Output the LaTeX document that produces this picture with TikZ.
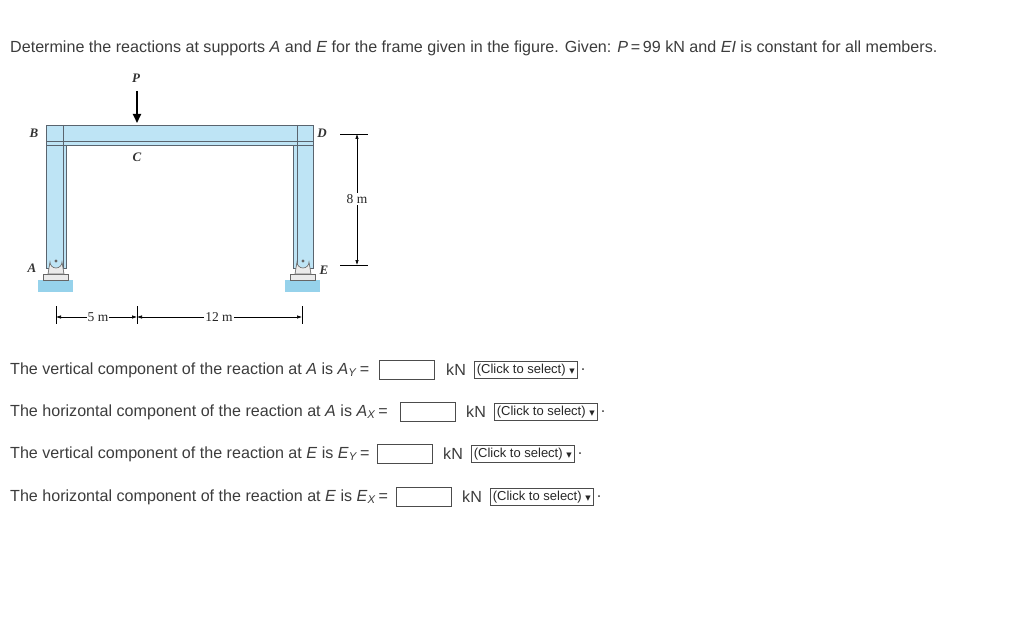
\documentclass[tikz,border=0pt]{standalone}
\usepackage{fontspec}
\setmainfont{Liberation Sans}
\newfontfamily\figfont{Liberation Serif}
\newfontfamily\symfont{DejaVu Sans}
\usetikzlibrary{arrows.meta}
\definecolor{txt}{RGB}{60,60,60}
\definecolor{steel}{RGB}{190,228,245}
\definecolor{steeldk}{RGB}{90,100,110}
\definecolor{gnd}{RGB}{150,210,235}
\begin{document}
\begin{tikzpicture}[x=1pt,y=-1pt,
  q/.style={anchor=west,inner sep=0,text=txt,font=\fontsize{16.1}{19}\selectfont},
  inbox/.style={draw=black!70,line width=0.7pt,minimum width=55pt,minimum height=19pt,inner sep=0,anchor=west},
  sel/.style={draw=black!70,line width=0.7pt,inner sep=2.5pt,anchor=west,font=\fontsize{13}{15}\selectfont,text=black!85},
  lab/.style={font=\figfont\bfseries\itshape\fontsize{13}{15}\selectfont,text=black!80},
  dim/.style={font=\figfont\fontsize{13.5}{15}\selectfont,text=black!85,fill=white,inner sep=1pt},
  mem/.style={fill=steel,draw=steeldk,line width=0.8pt}]
\useasboundingbox (0,0) rectangle (1024,620);
\node[q] (title) at (10,48) {Determine the reactions at supports \textit{A} and \textit{E} for the frame given in the figure. Given: \textit{P}\,=\,99 kN and \textit{EI} is constant for all members.};
% frame
\draw[mem] (46,145) rectangle (66,268);
\draw[mem] (293,145) rectangle (313,268);
\draw[mem] (46,125) rectangle (313,145);
\draw[steeldk,line width=0.6pt] (46,141) -- (313,141) (63,125) -- (63,268) (297,125) -- (297,268);
% supports
\foreach \xx/\nm in {56/sa,303/se}{
  \fill[gnd] (\xx-18,280) rectangle (\xx+17,292);
  \draw[fill=white!92!black,draw=black!60,line width=0.6pt] (\xx-13,274) rectangle (\xx+12,280);
  \draw[fill=white!92!black,draw=black!60,line width=0.6pt] (\xx-8,274) -- (\xx-6,262) arc (180:0:6) -- (\xx+8,274) -- cycle;
  \fill[black!60] (\xx,261) circle (1.6);
}
\node[lab] (nB) at (34,133) {B};
\node[lab] (nD) at (322,133) {D};
\node[lab] (nC) at (137,157) {C};
\node[lab] (nA) at (32,268) {A};
\node[lab] (nE) at (324,270) {E};
\node[lab] (nP) at (136,78) {P};
\coordinate (pt) at (137,91); \coordinate (ph) at (137,123);
\draw[line width=2pt,-{Triangle[length=9pt,width=8pt]}] (pt) -- (ph);
% 8 m dim
\coordinate (d1) at (357,134); \coordinate (d2) at (357,265);
\draw[line width=0.6pt] (340,134) -- (368,134) (340,265) -- (368,265);
\draw[line width=0.6pt,{Latex[length=5pt,width=3.5pt]}-{Latex[length=5pt,width=3.5pt]}] (d1) -- (d2);
\node[dim] (d8) at (357,199) {8 m};
% horizontal dims
\coordinate (h1) at (56,317); \coordinate (h2) at (137,317); \coordinate (h3) at (302,317);
\draw[line width=0.6pt] (56,306) -- (56,324) (137,306) -- (137,324) (302,306) -- (302,324);
\draw[line width=0.6pt,{Latex[length=5pt,width=3.5pt]}-{Latex[length=5pt,width=3.5pt]}] (h1) -- (h2);
\draw[line width=0.6pt,{Latex[length=5pt,width=3.5pt]}-{Latex[length=5pt,width=3.5pt]}] (h2) -- (h3);
\node[dim] (d5) at (98,317) {5 m};
\node[dim] (d12) at (219,317) {12 m};
% questions
\foreach \yy/\txt/\bx/\kn/\sx/\nm in {
  370/{The vertical component of the reaction at \textit{A} is \textit{A}\textsubscript{\textit{Y}}\,=}/379/446/474/r1,
  412/{The horizontal component of the reaction at \textit{A} is \textit{A}\textsubscript{\textit{X}}\,=}/400/466/494/r2,
  454/{The vertical component of the reaction at \textit{E} is \textit{E}\textsubscript{\textit{Y}}\,=}/377/443/471/r3,
  497/{The horizontal component of the reaction at \textit{E} is \textit{E}\textsubscript{\textit{X}}\,=}/396/462/490/r4}{
  \node[q] (\nm q) at (10,\yy) {\txt};
  \node[inbox] (\nm b) at (\bx,\yy) {};
  \node[q] (\nm k) at (\kn,\yy) {kN};
  \node[sel] (\nm s) at (\sx,\yy) {(Click to select) {\symfont\fontsize{7}{7}\selectfont ▼}};
  \node[q,anchor=west] (\nm p) at ([xshift=3pt]\nm s.east) {.};
}
\end{tikzpicture}
\end{document}
